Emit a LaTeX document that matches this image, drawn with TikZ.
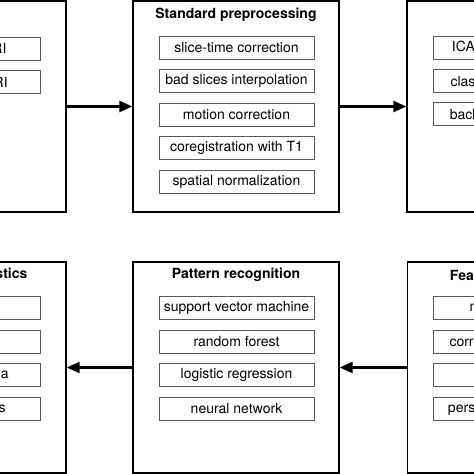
\documentclass[tikz,border=0pt]{standalone}
\usepackage{fontspec}
\setmainfont{TeX Gyre Heros}
\usetikzlibrary{arrows.meta}
\tikzset{
  stage/.style={draw, line width=1.3pt, minimum width=206pt, minimum height=211pt, inner sep=0pt},
  task/.style={draw=black!65, line width=0.9pt, minimum width=155pt, minimum height=23pt, inner sep=0pt, font=\fontsize{14}{16}\selectfont},
  heading/.style={font=\fontsize{14}{16}\selectfont\bfseries},
  flow/.style={-{Triangle[length=13pt,width=11pt]}, line width=2.4pt}
}
\begin{document}
\begin{tikzpicture}[x=1pt, y=-1pt]
    \useasboundingbox (0, 0) rectangle (474, 474);
    \clip (0, 0) rectangle (474, 474);
    % top row
    \node[stage] (data) at (-37, 106.5) {};
    \node[stage] (prep) at (236, 106.5) {};
    \node[stage] (denoise) at (510, 106.5) {};
    \node[heading] (preptitle) at (236, 15) {Standard preprocessing};
    \node[task] (mri1) at (-37, 48.5) {structural MRI};
    \node[task] (mri2) at (-37, 82) {functional MRI};
    \foreach \txt [count=\i] in {slice-time correction, bad slices interpolation, motion correction, coregistration with T1, spatial normalization}
        \node[task] (prep\i) at (236.5, 14+33.6*\i) {\txt};
    \foreach \txt [count=\i] in {ICA decomposition, classification of ICs, back-reconstruction}
        \node[task] (ica\i) at (510.5, 14.5+33.3*\i) {\txt};
    \draw[flow] (data) -- (prep);
    \draw[flow] (prep) -- (denoise);
    % bottom row
    \node[stage] (stats) at (-37, 367.5) {};
    \node[stage] (pattern) at (236, 367.5) {};
    \node[stage] (features) at (510.5, 367.5) {};
    \node[heading] (statstitle) at (-37, 275) {Summary statistics};
    \node[heading] (patterntitle) at (236, 275) {Pattern recognition};
    \node[heading] (featurestitle) at (510.5, 275) {Feature extraction};
    \foreach \txt [count=\i] in {{}, {}, ranking criteria, ROC analysis}
        \node[task] (stat\i) at (-37, 274.5+33.5*\i) {\txt};
    \foreach \txt [count=\i] in {support vector machine, random forest, logistic regression, neural network}
        \node[task] (clf\i) at (236.5, 274.5+33.5*\i) {\txt};
    \foreach \txt [count=\i] in {nodal degree, correlation matrices, {}, persistent homology}
        \node[task] (feat\i) at (510.5, 274.5+33.5*\i) {\txt};
    \draw[flow] (features) -- (pattern);
    \draw[flow] (pattern) -- (stats);
\end{tikzpicture}
\end{document}
